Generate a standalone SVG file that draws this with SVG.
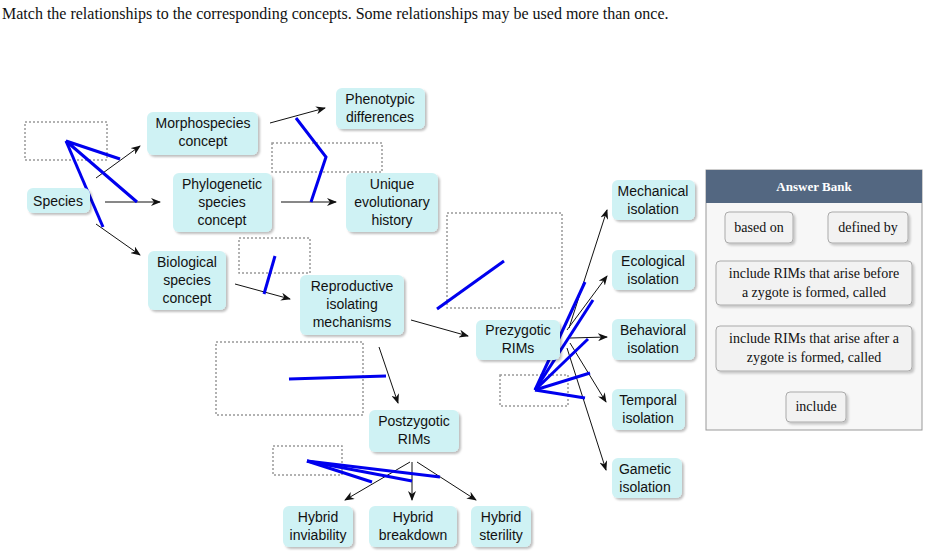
<svg xmlns="http://www.w3.org/2000/svg" width="926" height="556" viewBox="0 0 926 556">
<style>
.n rect{fill:#cff2f4;filter:url(#sh)}
.n text{font-family:"Liberation Sans",Arial,sans-serif;font-size:14px;fill:#111;text-anchor:middle}
.d{fill:none;stroke:#999;stroke-width:1.5;stroke-dasharray:2 2}
.a{stroke:#111;stroke-width:1;fill:none;marker-end:url(#ah)}
.b{stroke:#0000ee;stroke-width:3;fill:none;stroke-linecap:butt}
.bt rect{fill:#f2f2f2;stroke:#aaa;stroke-width:1;filter:url(#sh2)}
.bt text,.t{font-family:"Liberation Serif","Times New Roman",serif;font-size:14px;fill:#111;text-anchor:middle}
</style>
<defs>
<filter id="sh" x="-10%" y="-10%" width="130%" height="130%"><feDropShadow dx="2" dy="2" stdDeviation="1.2" flood-color="#000" flood-opacity="0.25"/></filter>
<filter id="sh2" x="-10%" y="-10%" width="130%" height="130%"><feDropShadow dx="2" dy="2" stdDeviation="0.8" flood-color="#000" flood-opacity="0.2"/></filter>
<marker id="ah" markerWidth="10" markerHeight="8" refX="9" refY="4" orient="auto" markerUnits="userSpaceOnUse"><path d="M0,0 L10,4 L0,8 L3,4 z" fill="#111"/></marker>
</defs>
<rect width="926" height="556" fill="#fff"/>
<text x="2" y="19" style="font-family:'Liberation Serif','Times New Roman',serif;font-size:16px;fill:#111">Match the relationships to the corresponding concepts. Some relationships may be used more than once.</text>

<g id="dropzones">
<rect class="d" x="25" y="122" width="82" height="38"/>
<rect class="d" x="272" y="143" width="110" height="29"/>
<rect class="d" x="239" y="238" width="71" height="35"/>
<rect class="d" x="447" y="213" width="115" height="95"/>
<rect class="d" x="216" y="342" width="147" height="73"/>
<rect class="d" x="500" y="375" width="68" height="31"/>
<rect class="d" x="273" y="446" width="69" height="29"/>
</g>

<g id="connectors">
<line class="a" x1="96" y1="178" x2="140" y2="146"/>
<line class="a" x1="105" y1="202" x2="160" y2="202"/>
<line class="a" x1="96" y1="224" x2="140" y2="255"/>
<line class="a" x1="270" y1="123" x2="325" y2="108"/>
<line class="a" x1="281" y1="202" x2="336" y2="202"/>
<line class="a" x1="235" y1="284" x2="290" y2="299"/>
<line class="a" x1="411" y1="320" x2="468" y2="336"/>
<line class="a" x1="379" y1="347" x2="398" y2="403"/>
<line class="a" x1="569" y1="328" x2="607" y2="210"/>
<line class="a" x1="567" y1="330" x2="607" y2="276"/>
<line class="a" x1="570" y1="338" x2="607" y2="337"/>
<line class="a" x1="570" y1="343" x2="606" y2="402"/>
<line class="a" x1="567" y1="348" x2="606" y2="470"/>
<line class="a" x1="410" y1="462" x2="345" y2="500"/>
<line class="a" x1="412" y1="462" x2="412" y2="500"/>
<line class="a" x1="417" y1="462" x2="476" y2="500"/>
</g>

<g id="answers">
<polyline class="b" points="120,159 66,141 137,202"/>
<line class="b" x1="66" y1="141" x2="103" y2="227"/>
<polyline class="b" points="296,118 326,157 311,202"/>
<line class="b" x1="275" y1="256" x2="264" y2="294"/>
<line class="b" x1="437" y1="309" x2="504" y2="261"/>
<line class="b" x1="289" y1="379" x2="386" y2="376"/>
<line class="b" x1="535" y1="390" x2="585" y2="282"/>
<line class="b" x1="535" y1="390" x2="593" y2="300"/>
<line class="b" x1="535" y1="390" x2="588" y2="339"/>
<line class="b" x1="535" y1="390" x2="590" y2="373"/>
<line class="b" x1="535" y1="390" x2="585" y2="398"/>
<line class="b" x1="307" y1="461" x2="372" y2="482"/>
<line class="b" x1="307" y1="461" x2="412" y2="481"/>
<line class="b" x1="307" y1="461" x2="440" y2="477"/>
</g>

<g id="species" class="n"><rect x="27" y="188" width="63" height="25" rx="6"/><text x="58" y="206">Species</text></g>
<g id="morpho" class="n"><rect x="147" y="112" width="111" height="43" rx="6"/><text x="203" y="128">Morphospecies</text><text x="203" y="146">concept</text></g>
<g id="phylo" class="n"><rect x="173" y="173" width="99" height="59" rx="6"/><text x="222" y="189">Phylogenetic</text><text x="222" y="207">species</text><text x="222" y="225">concept</text></g>
<g id="bio" class="n"><rect x="148" y="251" width="78" height="59" rx="6"/><text x="187" y="267">Biological</text><text x="187" y="285">species</text><text x="187" y="303">concept</text></g>
<g id="pheno" class="n"><rect x="336" y="88" width="89" height="41" rx="6"/><text x="380" y="104">Phenotypic</text><text x="380" y="122">differences</text></g>
<g id="unique" class="n"><rect x="346" y="173" width="92" height="59" rx="6"/><text x="392" y="189">Unique</text><text x="392" y="207">evolutionary</text><text x="392" y="225">history</text></g>
<g id="rim" class="n"><rect x="300" y="275" width="104" height="60" rx="6"/><text x="352" y="291">Reproductive</text><text x="352" y="309">isolating</text><text x="352" y="327">mechanisms</text></g>
<g id="prezyg" class="n"><rect x="476" y="320" width="84" height="40" rx="6"/><text x="518" y="335">Prezygotic</text><text x="518" y="353">RIMs</text></g>
<g id="postzyg" class="n"><rect x="369" y="410" width="90" height="42" rx="6"/><text x="414" y="426">Postzygotic</text><text x="414" y="444">RIMs</text></g>
<g id="mech" class="n"><rect x="612" y="180" width="83" height="40" rx="6"/><text x="653" y="196">Mechanical</text><text x="653" y="214">isolation</text></g>
<g id="eco" class="n"><rect x="612" y="250" width="83" height="40" rx="6"/><text x="653" y="266">Ecological</text><text x="653" y="284">isolation</text></g>
<g id="behav" class="n"><rect x="612" y="319" width="83" height="41" rx="6"/><text x="653" y="335">Behavioral</text><text x="653" y="353">isolation</text></g>
<g id="temp" class="n"><rect x="612" y="389" width="73" height="41" rx="6"/><text x="648" y="405">Temporal</text><text x="648" y="423">isolation</text></g>
<g id="gam" class="n"><rect x="612" y="458" width="70" height="40" rx="6"/><text x="645" y="474">Gametic</text><text x="645" y="492">isolation</text></g>
<g id="hinv" class="n"><rect x="283" y="506" width="70" height="41" rx="6"/><text x="318" y="522">Hybrid</text><text x="318" y="540">inviability</text></g>
<g id="hbrk" class="n"><rect x="369" y="506" width="88" height="41" rx="6"/><text x="413" y="522">Hybrid</text><text x="413" y="540">breakdown</text></g>
<g id="hster" class="n"><rect x="471" y="506" width="60" height="41" rx="6"/><text x="501" y="522">Hybrid</text><text x="501" y="540">sterility</text></g>

<g id="answerbank">
<rect x="706" y="170" width="216" height="260" fill="#f7f7f7" stroke="#999"/>
<rect x="706" y="170" width="216" height="33" fill="#536781"/>
<text class="t" x="814" y="191" style="fill:#fff;font-weight:bold;font-size:13px">Answer Bank</text>
<g class="bt"><rect x="725" y="212" width="68" height="31" rx="4"/><text x="759" y="232">based on</text></g>
<g class="bt"><rect x="828" y="212" width="80" height="31" rx="4"/><text x="868" y="232">defined by</text></g>
<g class="bt"><rect x="716" y="261" width="196" height="44" rx="4"/><text x="814" y="278">include RIMs that arise before</text><text x="814" y="297">a zygote is formed, called</text></g>
<g class="bt"><rect x="716" y="326" width="196" height="45" rx="4"/><text x="814" y="343">include RIMs that arise after a</text><text x="814" y="362">zygote is formed, called</text></g>
<g class="bt"><rect x="786" y="392" width="60" height="30" rx="4"/><text x="816" y="411">include</text></g>
</g>
</svg>
